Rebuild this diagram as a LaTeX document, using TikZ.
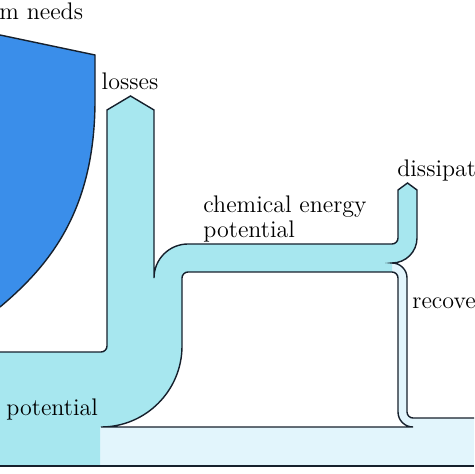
\documentclass[tikz,border=0pt]{standalone}
\definecolor{flowblue}{RGB}{58,142,234}
\definecolor{flowcyan}{RGB}{167,231,239}
\definecolor{flowlight}{RGB}{226,245,252}
\definecolor{edgeline}{RGB}{22,32,44}
\begin{document}
\begin{tikzpicture}[x=0.5pt,y=-0.5pt,
  edge/.style={draw=edgeline,line width=0.7pt},
  lbl/.style={font=\fontsize{12}{12.5}\selectfont,inner sep=0pt,text=black}]
\useasboundingbox (0,0) rectangle (474,474);

% blue incoming flow (system needs)
\fill[flowblue] (0,35) -- (95,55) -- (95,100) .. controls (95,210) and (50,265) .. (0,307) -- cycle;
\draw[edge] (0,35) -- (95,55) -- (95,100) .. controls (95,210) and (50,265) .. (0,307);

% light recovered flow
\fill[flowlight] (392,263) .. controls (400.3,263) and (407,269.7) .. (407,278)
  -- (407,412) .. controls (407,415.3) and (409.7,418) .. (413,418)
  -- (474,418) -- (474,466) -- (100,466) -- (100,427) -- (413,427)
  .. controls (404.7,427) and (398,420.3) .. (398,412)
  -- (398,278) .. controls (398,274.7) and (395.3,272) .. (392,272) -- cycle;

% cyan main flow
\fill[flowcyan] (0,352) -- (101,352) .. controls (104.3,352) and (107,349.3) .. (107,346)
  -- (107,110) -- (130.5,96) -- (154,110)
  -- (154,278) .. controls (154,259.2) and (169.2,244) .. (188,244)
  -- (392,244) .. controls (395.3,244) and (398,241.3) .. (398,238)
  -- (398,190) -- (407.5,183) -- (417,190)
  -- (417,238) .. controls (417,251.8) and (405.8,263) .. (392,263)
  -- (392,272) -- (188,272) .. controls (184.7,272) and (182,274.7) .. (182,278)
  -- (182,346) .. controls (182,390.7) and (145.7,427) .. (101,427)
  -- (100,427) -- (100,466) -- (0,466) -- cycle;

% outlines
\draw[edge] (0,352) -- (101,352) .. controls (104.3,352) and (107,349.3) .. (107,346)
  -- (107,110) -- (130.5,96) -- (154,110)
  -- (154,278) .. controls (154,259.2) and (169.2,244) .. (188,244)
  -- (392,244) .. controls (395.3,244) and (398,241.3) .. (398,238)
  -- (398,190) -- (407.5,183) -- (417,190)
  -- (417,238) .. controls (417,251.8) and (405.8,263) .. (392,263)
  .. controls (400.3,263) and (407,269.7) .. (407,278)
  -- (407,412) .. controls (407,415.3) and (409.7,418) .. (413,418)
  -- (474,418);
\draw[edge] (188,272) -- (392,272) .. controls (395.3,272) and (398,274.7) .. (398,278)
  -- (398,412) .. controls (398,420.3) and (404.7,427) .. (413,427)
  -- (101,427) .. controls (145.7,427) and (182,390.7) .. (182,346)
  -- (182,278) .. controls (182,274.7) and (184.7,272) .. (188,272) -- cycle;
\draw[edge] (0,466) -- (474,466);

% labels
\node[lbl,anchor=base west] (needs) at (-1,20) {m needs};
\node[lbl,anchor=base] (losses) at (130,90) {losses};
\node[lbl,anchor=base west] (chem1) at (203,213) {chemical energy};
\node[lbl,anchor=base west] (chem2) at (203,238) {potential};
\node[lbl,anchor=base west] (diss) at (397,177) {dissipat};
\node[lbl,anchor=base west] (recov) at (412,308) {recove};
\node[lbl,anchor=base west] (pot) at (6,415) {potential};
\end{tikzpicture}
\end{document}
